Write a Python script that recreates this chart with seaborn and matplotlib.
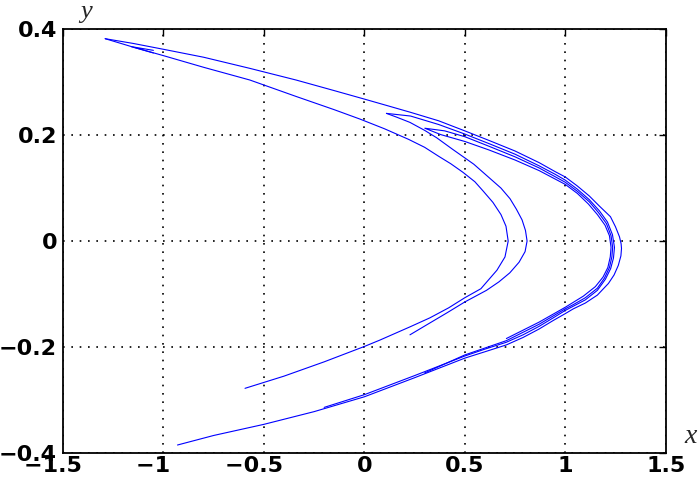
import pandas as pd
import matplotlib
matplotlib.use("Agg")
import matplotlib.pyplot as plt
import seaborn as sns

# Henon-type attractor, traced strand by strand off the picture

# outermost strand: top-left tip -> outer fold (x ~ 1.28) -> bottom-left end
outer_x = [-1.29, -1.15, -1.00, -0.80, -0.57, -0.34, -0.15, 0.00, 0.12, 0.23, 0.37, 0.50, 0.62, 0.75,
           0.87, 0.95, 1.00, 1.06, 1.12, 1.17, 1.225, 1.25, 1.27, 1.278, 1.28, 1.277, 1.264, 1.243,
           1.215, 1.16, 1.10, 1.04, 1.00, 0.94, 0.87, 0.79, 0.707, 0.60, 0.50, 0.25, 0.00, -0.25,
           -0.50, -0.75, -0.93]
outer_y = [0.382, 0.373, 0.362, 0.347, 0.326, 0.304, 0.284, 0.268, 0.255, 0.243, 0.227, 0.208, 0.190, 0.170,
           0.148, 0.131, 0.121, 0.104, 0.085, 0.066, 0.046, 0.027, 0.008, -0.005, -0.014, -0.028, -0.046, -0.064,
           -0.080, -0.102, -0.117, -0.128, -0.137, -0.150, -0.166, -0.182, -0.196, -0.209, -0.221, -0.258,
           -0.294, -0.322, -0.346, -0.367, -0.385]

# lower strand from the top-left tip, folding at x ~ 0.71
inner_x = [-1.29, -1.15, -1.00, -0.80, -0.57, -0.34, -0.15, -0.02, 0.10, 0.22, 0.30, 0.37, 0.43, 0.49,
           0.55, 0.59, 0.64, 0.68, 0.705, 0.716, 0.70, 0.66, 0.58, 0.50, 0.42, 0.326, 0.227, 0.077, 0.00,
           -0.20, -0.40, -0.594]
inner_y = [0.382, 0.366, 0.350, 0.328, 0.304, 0.273, 0.248, 0.230, 0.212, 0.192, 0.177, 0.160, 0.146, 0.130,
           0.112, 0.095, 0.073, 0.050, 0.028, 0.000, -0.030, -0.055, -0.090, -0.107, -0.126, -0.145, -0.162,
           -0.187, -0.199, -0.228, -0.255, -0.278]

# hairpin near (0.11, 0.24): lower arm makes the fold at x ~ 0.81
fold_x = [0.11, 0.16, 0.227, 0.30, 0.36, 0.44, 0.545, 0.62, 0.68, 0.725, 0.757, 0.785, 0.802, 0.81,
          0.80, 0.77, 0.724, 0.67, 0.608, 0.50, 0.409, 0.32, 0.227]
fold_y = [0.241, 0.234, 0.224, 0.209, 0.195, 0.173, 0.145, 0.120, 0.100, 0.080, 0.060, 0.040, 0.020, 0.000,
          -0.020, -0.040, -0.060, -0.077, -0.093, -0.115, -0.136, -0.156, -0.177]

# ... and its upper arm runs inside the outer band
band1_x = [0.11, 0.23, 0.37, 0.50, 0.62, 0.75, 0.87, 0.95, 1.00, 1.06, 1.12, 1.17, 1.21, 1.235, 1.245,
           1.24, 1.226, 1.20, 1.16, 1.10, 1.04, 1.00, 0.94, 0.87, 0.79, 0.707, 0.60, 0.50, 0.25, 0.00, -0.20]
band1_y = [0.241, 0.236, 0.220, 0.202, 0.184, 0.164, 0.142, 0.126, 0.115, 0.098, 0.078, 0.057, 0.036, 0.012,
           -0.012, -0.032, -0.052, -0.072, -0.093, -0.111, -0.123, -0.131, -0.145, -0.161, -0.177, -0.191,
           -0.204, -0.217, -0.254, -0.290, -0.314]

# second hairpin near (0.30, 0.21), both arms inside the outer band
band2_x = [0.30, 0.50, 0.707, 0.87, 1.00, 1.04, 1.10, 1.16, 1.195, 1.22, 1.232, 1.236, 1.228, 1.205, 1.165,
           1.12, 1.06, 1.00, 0.87, 0.75, 0.62, 0.50, 0.40, 0.301, 0.38, 0.50, 0.62, 0.75, 0.87, 1.00,
           1.06, 1.115, 1.16, 1.198, 1.22, 1.228, 1.224, 1.212, 1.188, 1.15, 1.09, 1.00, 0.87, 0.707]
band2_y = [-0.249, -0.215, -0.188, -0.157, -0.128, -0.120, -0.107, -0.089, -0.070, -0.050, -0.030, -0.012,
           0.010, 0.033, 0.054, 0.074, 0.094, 0.111, 0.138, 0.159, 0.179, 0.197, 0.208, 0.213, 0.201, 0.188,
           0.172, 0.153, 0.133, 0.107, 0.090, 0.070, 0.050, 0.030, 0.010, -0.012, -0.030, -0.050, -0.068,
           -0.086, -0.104, -0.125, -0.153, -0.184]

# tiny fold near the top-left tip
tip_x = [-1.05, -1.16, -1.05]
tip_y = [0.360, 0.367, 0.355]

x_ticks = [-1.5, -1, -0.5, 0, 0.5, 1, 1.5]
x_labels = ["\u22121.5  \u2009", "\u22121  \u2009", "\u22120.5  \u2009", "0", "0.5", "1", "1.5"]
y_ticks = [-0.4, -0.2, 0, 0.2, 0.4]
y_labels = ["\u22120.4", "\u22120.2", "0", "0.2", "0.4"]

strands = {
    "outer": (outer_x, outer_y),
    "inner": (inner_x, inner_y),
    "fold": (fold_x, fold_y),
    "band1": (band1_x, band1_y),
    "band2": (band2_x, band2_y),
    "tip": (tip_x, tip_y),
}
frames = []
for name, (xs, ys) in strands.items():
    frames.append(pd.DataFrame({"x": xs, "y": ys, "strand": name}))
df = pd.concat(frames, ignore_index=True)

sns.set_style("white")
plt.rcParams["font.family"] = ["DejaVu Sans"]

fig = plt.figure(figsize=(7, 4.86), dpi=100)
ax = fig.add_axes([0.09, 0.068, 0.861, 0.872])

sns.lineplot(data=df, x="x", y="y", units="strand", estimator=None, sort=False,
             color="#0000ff", lw=0.8, ax=ax, legend=False)

ax.set_xlim(-1.5, 1.5)
ax.set_ylim(-0.4, 0.4)
ax.set_xticks(x_ticks)
ax.set_xticklabels(x_labels)
ax.set_yticks(y_ticks)
ax.set_yticklabels(y_labels)
ax.set_xlabel("")
ax.set_ylabel("")

ax.grid(True, color="black", linestyle=(0, (1, 4)), linewidth=1.2)
ax.tick_params(direction="in", length=5, width=1, top=True, right=True,
               labelsize=16, colors="black")
ax.tick_params(axis="x", pad=2)
ax.tick_params(axis="y", pad=4.3)
for lbl in ax.get_xticklabels() + ax.get_yticklabels():
    lbl.set_fontweight("bold")
for s in ax.spines.values():
    s.set_visible(True)
    s.set_color("black")
    s.set_linewidth(1.3)

fig.text(86 / 700, 1 - 1 / 486, "y", family="Liberation Serif", style="italic",
         fontsize=19, ha="center", va="top")
fig.text(684 / 700, 1 - 443 / 486, "x", family="Liberation Serif", style="italic",
         fontsize=20, ha="left", va="baseline")

fig.savefig("out.png", dpi=100)
